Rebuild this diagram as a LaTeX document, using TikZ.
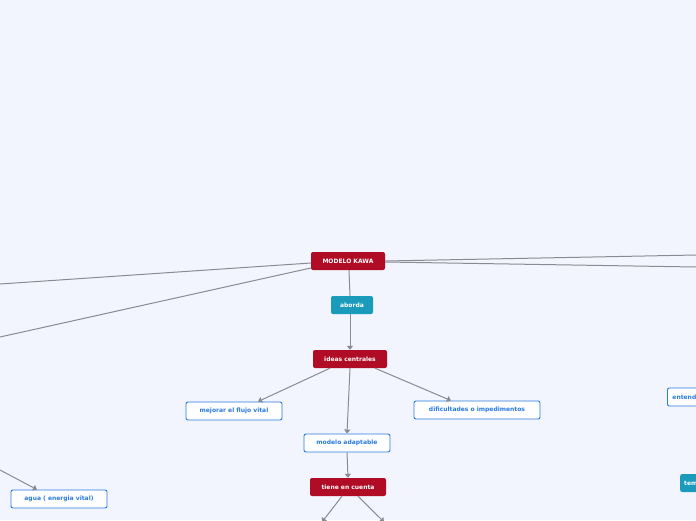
\documentclass[tikz,border=0pt]{standalone}
\usepackage{fontspec}
\setmainfont{DejaVu Sans}
\usetikzlibrary{arrows.meta}
\definecolor{bg}{HTML}{F2F5FE}
\definecolor{kred}{HTML}{B00C25}
\definecolor{kteal}{HTML}{1A9BBB}
\definecolor{kblue}{HTML}{2A7BDE}
\definecolor{kline}{HTML}{8A8A92}
\tikzset{
 base/.style={rounded corners=2pt,font=\fontsize{6}{7}\selectfont\bfseries,inner sep=0pt,minimum height=18pt},
 redbox/.style={base,fill=kred,text=white},
 tealbox/.style={base,fill=kteal,text=white},
 whitebox/.style={base,fill=white,draw=kblue,line width=0.9pt,text=kblue,minimum height=18pt},
 conn/.style={draw=kline,line width=1pt},
 arr/.style={conn,-{Triangle[width=6pt,length=4pt]}}
}
\begin{document}
\begin{tikzpicture}[x=1pt,y=-1pt]
\fill[bg] (0,0) rectangle (696,520);
\useasboundingbox (0,0) rectangle (696,520);
\clip (0,0) rectangle (696,520);
\node[redbox,minimum width=74pt] (mk) at (348,261) {MODELO KAWA};
\node[tealbox,minimum width=42pt] (ab) at (352,305) {aborda};
\node[redbox,minimum width=74pt] (ic) at (350,359) {ideas centrales};
\node[whitebox,minimum width=96pt] (mf) at (234,411) {mejorar el flujo vital};
\node[whitebox,minimum width=126pt] (di) at (477,410) {dificultades o impedimentos};
\node[whitebox,minimum width=86pt] (ma) at (347,443) {modelo adaptable};
\node[redbox,minimum width=76pt] (te) at (348,487) {tiene en cuenta};
\node[whitebox,minimum width=96pt] (ag) at (59,499) {agua ( energia vital)};
\node[whitebox,minimum width=80pt,anchor=west,text width=74pt,align=left] (en) at (667,397) {\hspace*{2pt}entendimiento};
\node[tealbox,minimum width=40pt,anchor=west,text width=36pt,align=left] (tt) at (680,483) {\hspace*{2pt}temas};
\coordinate (r1) at (696,255); \coordinate (r2) at (696,267);
\coordinate (l1) at (0,284); \coordinate (l2) at (0,337);
\coordinate (l3) at (0,470);
\coordinate (b1) at (322,522); \coordinate (b2) at (384,522);
\draw[conn] (mk.east) -- (r1);
\draw[conn] ([yshift=-1pt]mk.east) -- (r2);
\draw[conn] ([yshift=-2pt]mk.west) -- (l1);
\draw[conn] ([yshift=-7pt]mk.west) -- (l2);
\draw[conn] ([xshift=1pt]mk.south) -- ([xshift=-2pt]ab.north);
\draw[arr] ([xshift=-2pt]ab.south) -- (ic.north);
\draw[arr] ([xshift=-20pt]ic.south) -- ([xshift=24pt]mf.north);
\draw[arr] ([xshift=25pt]ic.south) -- ([xshift=-26pt]di.north);
\draw[arr] (ic.south) -- (ma.north);
\draw[arr] (ma.south) -- (te.north);
\draw[arr] (l3) -- ([xshift=-22pt]ag.north);
\draw[arr] ([xshift=-6pt]te.south) -- (b1);
\draw[arr] ([xshift=10pt]te.south) -- (b2);
\end{tikzpicture}
\end{document}
